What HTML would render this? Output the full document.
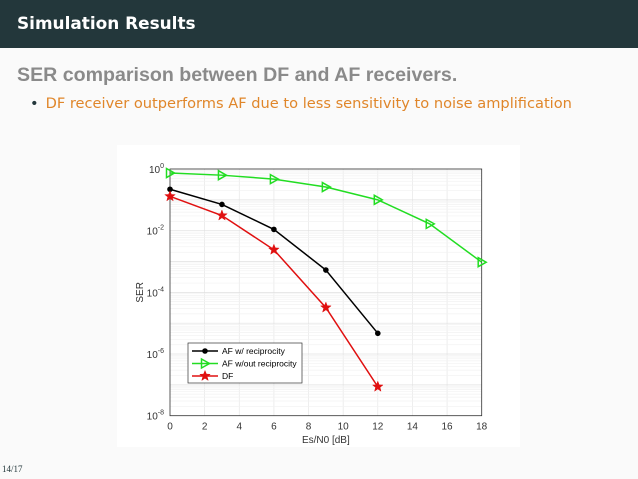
<!DOCTYPE html>
<html><head><meta charset="utf-8"><style>
body{margin:0;width:638px;height:479px;background:#fafafa;font-family:"DejaVu Sans","Liberation Sans",sans-serif;position:relative;overflow:hidden}
#hdr{position:absolute;left:0;top:0;width:638px;height:48px;background:#23373b;color:#fff;font-weight:bold;font-size:16.9px;line-height:46px;padding-left:17px;box-sizing:border-box}
#title{position:absolute;left:17px;top:64px;font-size:19.6px;font-weight:bold;color:#8a8a8a;font-family:"Liberation Sans",sans-serif}
#bullet{position:absolute;left:30px;top:95px;font-size:14.6px;color:#e0862a}
#bullet span{color:#23373b;margin-right:7px}
#pg{position:absolute;left:2px;top:464px;font-size:9px;color:#23373b;font-family:"Liberation Serif",serif}
svg{position:absolute;left:0;top:0}
</style></head><body>
<div id="hdr">Simulation Results</div>
<div id="title">SER comparison between DF and AF receivers.</div>
<div id="bullet"><span>•</span>DF receiver outperforms AF due to less sensitivity to noise amplification</div>
<div id="pg">14/17</div>
<svg id="chart" width="638" height="479"></svg>
<script>
const xs=[0,3,6,9,12,15,18];
const afRecip=[0.22,0.071,0.011,5.3e-4,4.7e-6];
const afNoRecip=[0.74,0.63,0.47,0.26,0.1,0.0166,9.5e-4];
const df=[0.13,0.031,0.0024,3.2e-5,8.7e-8];
const xTicks=[0,2,4,6,8,10,12,14,16,18];
const yExp=[0,-2,-4,-6,-8];
const NS='http://www.w3.org/2000/svg';
const svg=document.getElementById('chart');
const L=170,R=481.7,T=169,B=415.7;
const X=v=>L+(v/18)*(R-L);
const Y=v=>T+(-Math.log10(v)/8)*(B-T);
function el(t,a,p){const e=document.createElementNS(NS,t);for(const k in a)e.setAttribute(k,a[k]);(p||svg).appendChild(e);return e;}
const bg=el('rect',{x:117,y:145,width:403,height:302,fill:'#ffffff'});


for(const t of xTicks){const g=el('line',{x1:X(t),x2:X(t),y1:T,y2:B,stroke:'#e6e6e6','stroke-width':0.7});

}
for(let d=-8;d<=0;d++){for(let m=1;m<10;m++){const v=m*Math.pow(10,d);if(v>1.0001)continue;const g=el('line',{x1:L,x2:R,y1:Y(v),y2:Y(v),stroke:m==1?'#e0e0e0':'#f2f2f2','stroke-width':0.7});

}}
const box=el('rect',{x:L,y:T,width:R-L,height:B-T,fill:'none',stroke:'#333','stroke-width':0.8});


for(const t of xTicks){const tx=el('text',{x:X(t),y:B+14,'font-size':10,'text-anchor':'middle',fill:'#333','font-family':'Liberation Sans'});tx.textContent=t;

}
for(const e of yExp){const tx=el('text',{x:L-6,y:Y(Math.pow(10,e))+4,'font-size':10,'text-anchor':'end',fill:'#333','font-family':'Liberation Sans'});
tx.innerHTML='10<tspan dy="-5" font-size="7">'+e+'</tspan>';

}
const xl=el('text',{x:(L+R)/2,y:443,'font-size':10,'text-anchor':'middle',fill:'#333','font-family':'Liberation Sans'});xl.textContent='Es/N0 [dB]';


const yl=el('text',{x:0,y:0,'font-size':10,'text-anchor':'middle',fill:'#333','font-family':'Liberation Sans',transform:`translate(143,${(T+B)/2}) rotate(-90)`});yl.textContent='SER';


function star(cx,cy,r,c){let p=[];for(let i=0;i<10;i++){const a=-Math.PI/2+i*Math.PI/5,rr=i%2?r*0.42:r;p.push((cx+rr*Math.cos(a)).toFixed(1)+','+(cy+rr*Math.sin(a)).toFixed(1));}return el('polygon',{points:p.join(' '),fill:c,stroke:c,'stroke-width':0.5});}
function marker(type,cx,cy,c){if(type=='o')return el('circle',{cx,cy,r:2.8,fill:c});if(type=='>')return el('polygon',{points:`${cx-3.5},${cy-4.5} ${cx+4.5},${cy} ${cx-3.5},${cy+4.5}`,fill:'none',stroke:c,'stroke-width':1.5});return star(cx,cy,5.5,c);}
const series=[[afRecip,'#000','o','af-reciprocity'],[afNoRecip,'#22dd22','>','af-no-reciprocity'],[df,'#e01010','*','df']];
for(const [vals,c,m,n] of series){const pts=vals.map((v,i)=>X(xs[i])+','+Y(v)).join(' ');
const pl=el('polyline',{points:pts,fill:'none',stroke:c,'stroke-width':1.5});


vals.forEach((v,i)=>{const mk=marker(m,X(xs[i]),Y(v),c);

});}
const lg=el('rect',{x:188,y:343,width:114,height:40,fill:'#fff',stroke:'#333','stroke-width':0.7});


const names=['AF w/ reciprocity','AF w/out reciprocity','DF'];
series.forEach((s,i)=>{const y=351+i*12.5;el('line',{x1:192,x2:218,y1:y,y2:y,stroke:s[1],'stroke-width':1.5});marker(s[2],205,y,s[1]);
const t=el('text',{x:222,y:y+3,'font-size':8.5,fill:'#000','font-family':'Liberation Sans'});t.textContent=names[i];

});
</script>
</body></html>
